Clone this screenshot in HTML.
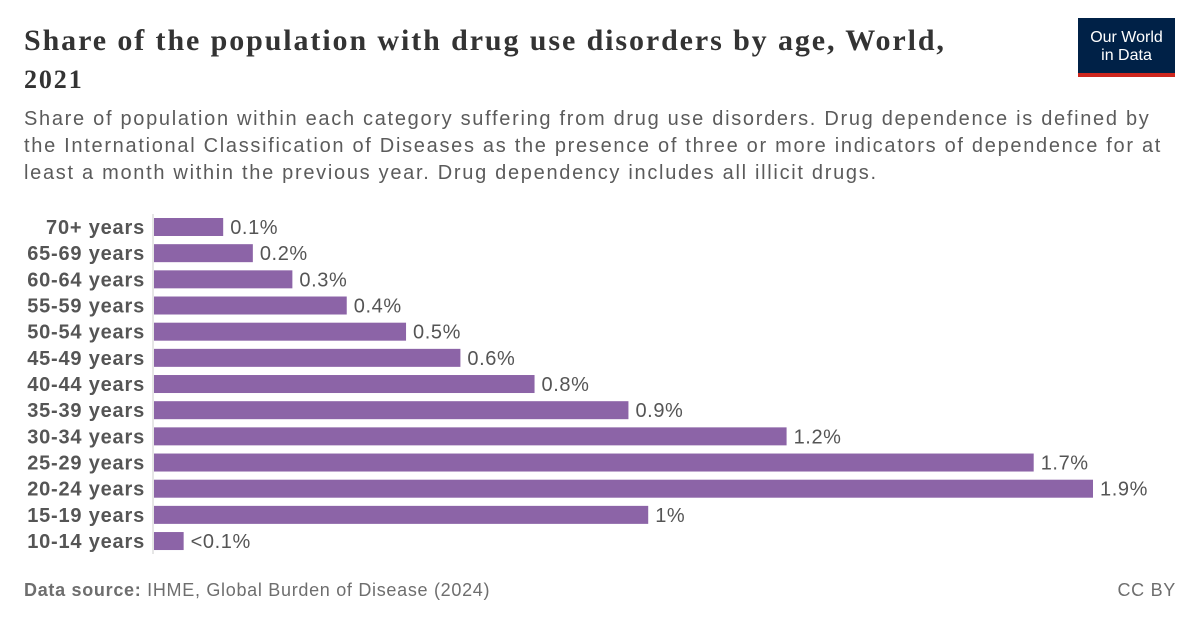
<!DOCTYPE html>
<html><head><meta charset="utf-8"><style>
body{margin:0;width:1200px;height:627px;background:#fff;font-family:"Liberation Sans",sans-serif;position:relative;overflow:hidden}
.t{position:absolute}
</style></head><body>
<div class="t" style="left:24px;top:22px;font-family:'Liberation Serif',serif;font-weight:bold;font-size:30px;letter-spacing:1.9px;line-height:38px;color:#333;width:1040px">Share of the population with drug use disorders by age, World,<br><span style="font-size:26px">2021</span></div>
<div class="t" style="left:1078px;top:18px;width:97px;height:59px;background:#002147;color:#fff;font-size:16px;line-height:18px;text-align:center;box-sizing:border-box;padding-top:11px;border-bottom:4px solid #ce261e">Our World<br>in Data</div>
<div class="t" style="left:24px;top:106px;width:1170px;font-size:20px;letter-spacing:1.7px;line-height:27px;color:#5b5b5b;white-space:nowrap">Share of population within each category suffering from drug use disorders. Drug dependence is defined by<br>the International Classification of Diseases as the presence of three or more indicators of dependence for at<br>least a month within the previous year. Drug dependency includes all illicit drugs.</div>
<svg class="t" style="left:0;top:0" width="1200" height="627" id="chart"></svg>
<div class="t" style="left:24px;top:580px;font-size:18px;letter-spacing:0.7px;color:#6e6e6e"><b>Data source:</b> IHME, Global Burden of Disease (2024)</div>
<div class="t" style="right:24px;top:580px;font-size:18px;letter-spacing:0.7px;color:#6e6e6e">CC BY</div>
<script>
const categories=["70+ years","65-69 years","60-64 years","55-59 years","50-54 years","45-49 years","40-44 years","35-39 years","30-34 years","25-29 years","20-24 years","15-19 years","10-14 years"];
const values=[0.14,0.2,0.28,0.39,0.51,0.62,0.77,0.96,1.28,1.78,1.9,1.0,0.06];
const valueLabels=["0.1%","0.2%","0.3%","0.4%","0.5%","0.6%","0.8%","0.9%","1.2%","1.7%","1.9%","1%","<0.1%"];
const NS="http://www.w3.org/2000/svg";
const svg=document.getElementById('chart');
const x0=154,x1=1093,y0=227,step=26.17,bh=18;
const xScale=v=>x0+(x1-x0)*v/Math.max(...values);
const yScale=i=>y0+i*step;
const ax=document.createElementNS(NS,'line');


ax.setAttribute('x1',153);ax.setAttribute('x2',153);ax.setAttribute('y1',214);ax.setAttribute('y2',554);ax.setAttribute('stroke','#ddd');ax.setAttribute('stroke-width',1.5);
svg.appendChild(ax);
categories.forEach((c,i)=>{
 const y=yScale(i);
 const lab=document.createElementNS(NS,'text');
 
 
 lab.setAttribute('x',145);lab.setAttribute('y',y+7);lab.setAttribute('text-anchor','end');
 lab.setAttribute('font-size','20');lab.setAttribute('font-weight','bold');lab.setAttribute('fill','#555');lab.setAttribute('letter-spacing','0.8');
 lab.textContent=c;svg.appendChild(lab);
 const r=document.createElementNS(NS,'rect');
 
 
 r.setAttribute('x',x0);r.setAttribute('y',y-bh/2);r.setAttribute('height',bh);
 r.setAttribute('width',xScale(values[i])-x0);r.setAttribute('fill','#8c64a7');
 svg.appendChild(r);
 const v=document.createElementNS(NS,'text');
 
 
 v.setAttribute('x',xScale(values[i])+7);v.setAttribute('y',y+7);
 v.setAttribute('font-size','20');v.setAttribute('fill','#555');v.setAttribute('letter-spacing','0.6');
 v.textContent=valueLabels[i];svg.appendChild(v);
});
</script>
</body></html>
